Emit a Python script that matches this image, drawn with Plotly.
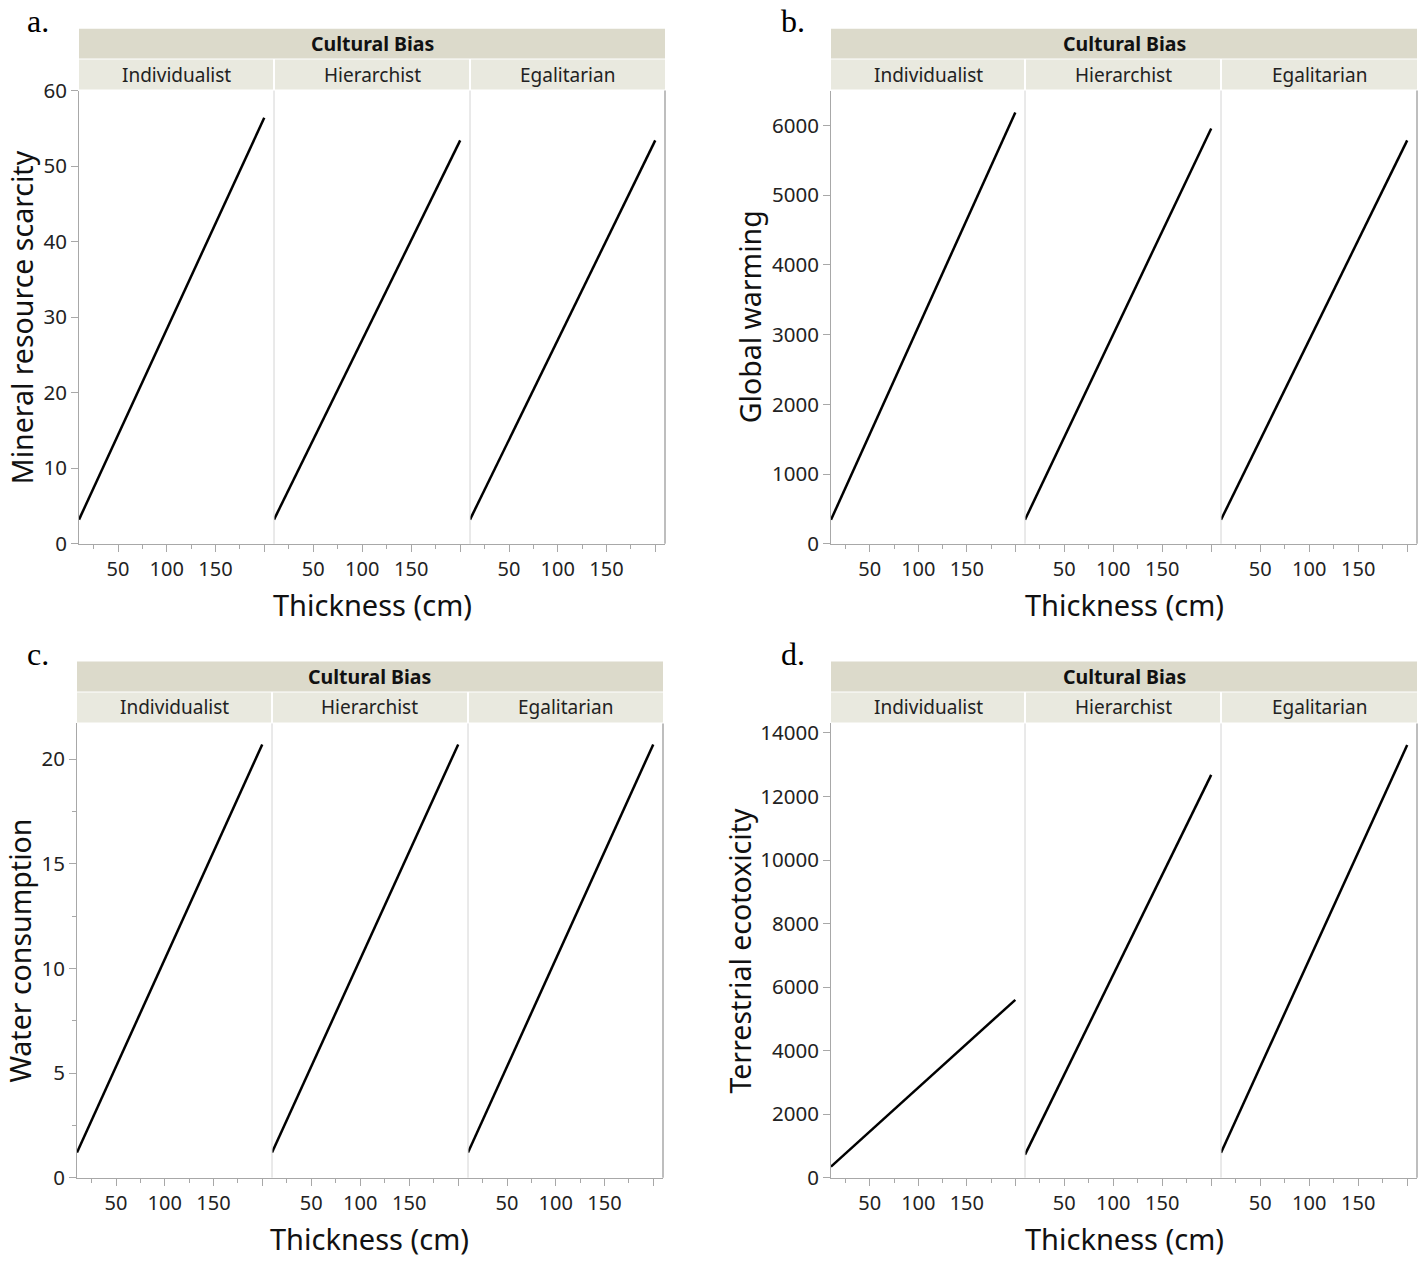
import plotly.graph_objects as go

W, H = 1425, 1261

# data
thickness = [10, 200]
facets = ["Individualist", "Hierarchist", "Egalitarian"]
mineral = [[3.2, 56.4], [3.2, 53.4], [3.2, 53.4]]
warming = [[344, 6186], [344, 5957], [344, 5785]]
water = [[1.2, 20.7], [1.2, 20.7], [1.2, 20.7]]
ecotox = [[346, 5600], [724, 12680], [786, 13620]]

ylabels = ["Mineral resource scarcity", "Global warming", "Water consumption", "Terrestrial ecotoxicity"]
letters = ["a.", "b.", "c.", "d."]
yticks = [[0, 10, 20, 30, 40, 50, 60],
          [0, 1000, 2000, 3000, 4000, 5000, 6000],
          [0, 5, 10, 15, 20],
          [0, 2000, 4000, 6000, 8000, 10000, 12000, 14000]]
yranges = [[0, 60], [0, 6500], [0, 21.7], [0, 14300]]
series = [mineral, warming, water, ecotox]

# pixel layout of each panel: facet x edges, plot top/bottom
panels = [
    dict(xs=[79, 274, 470, 665], top=89, bot=543, ylab_x=22, lx=38),
    dict(xs=[831, 1025, 1221, 1417], top=89, bot=543, ylab_x=750, lx=793),
    dict(xs=[77, 272, 468, 663], top=723, bot=1178, ylab_x=20, lx=38),
    dict(xs=[831, 1025, 1221, 1417], top=723, bot=1178, ylab_x=740, lx=793),
]

FONT = "Noto Sans"
GRID = "#d4d4d4"
AX = "#a8a8a8"


def px(x):
    return x / W


def py(y):
    # the screenshot squeezes the page a bit vertically, undo that
    y = (y - 13.3) / 0.9795
    return 1 - y / H


fig = go.Figure()
layout = {}
shapes = []
annotations = []

for p, pan in enumerate(panels):
    yname = "yaxis" if p == 0 else f"yaxis{p * 3 + 1}"
    yref = "y" if p == 0 else f"y{p * 3 + 1}"
    first_x = "x" if p == 0 else f"x{p * 3 + 1}"
    layout[yname] = dict(
        domain=[py(pan["bot"]), py(pan["top"])],
        anchor=first_x, range=yranges[p], tickvals=yticks[p], tickformat="d",
        showgrid=False, zeroline=False, showline=True, linecolor=AX, linewidth=1,
        ticks="outside", ticklen=7, tickcolor=AX,
        tickfont=dict(family=FONT, size=20.5, color="#222"),
    )
    if p == 2:
        layout[yname]["minor"] = dict(ticks="outside", ticklen=4, tickcolor=AX, dtick=2.5)

    for f in range(3):
        k = p * 3 + f + 1
        xname = "xaxis" if k == 1 else f"xaxis{k}"
        xref = "x" if k == 1 else f"x{k}"
        layout[xname] = dict(
            domain=[px(pan["xs"][f]), px(pan["xs"][f + 1])],
            anchor=yref, range=[10, 210],
            tickvals=[50, 100, 150, 200], ticktext=["50", "100", "150", ""],
            showgrid=False, zeroline=False, showline=True, linecolor=AX, linewidth=1,
            ticks="outside", ticklen=7, tickcolor=AX,
            minor=dict(tickvals=[25, 75, 125, 175], ticks="outside", ticklen=4, tickcolor=AX),
            tickfont=dict(family=FONT, size=20, color="#222"),
        )
        fig.add_trace(go.Scatter(
            x=thickness, y=series[p][f], mode="lines",
            line=dict(color="black", width=2.5),
            xaxis=xref, yaxis=yref, showlegend=False, hoverinfo="skip",
        ))
        # facet header cell
        shapes.append(dict(type="rect", xref="paper", yref="paper",
                           x0=px(pan["xs"][f] + (1 if f > 0 else 0)), x1=px(pan["xs"][f + 1] - (1 if f < 2 else 0)),
                           y0=py(pan["top"] - 1), y1=py(pan["top"] - 31),
                           fillcolor="#e9e9df", line=dict(width=0), layer="below"))
        annotations.append(dict(text=facets[f], xref="paper", yref="paper",
                                x=px((pan["xs"][f] + pan["xs"][f + 1]) / 2), y=py(pan["top"] - 16),
                                showarrow=False, font=dict(family=FONT, size=19, color="#222"),
                                xanchor="center", yanchor="middle"))
        # divider between facets
        if f > 0:
            shapes.append(dict(type="line", xref="paper", yref="paper",
                               x0=px(pan["xs"][f]), x1=px(pan["xs"][f]),
                               y0=py(pan["bot"]), y1=py(pan["top"]),
                               line=dict(color=GRID, width=1)))
    shapes.append(dict(type="line", xref="paper", yref="paper",
                       x0=px(pan["xs"][3]), x1=px(pan["xs"][3]),
                       y0=py(pan["bot"]), y1=py(pan["top"]),
                       line=dict(color=AX, width=1.5)))
    # top header band
    shapes.append(dict(type="rect", xref="paper", yref="paper",
                       x0=px(pan["xs"][0]), x1=px(pan["xs"][3]),
                       y0=py(pan["top"] - 32), y1=py(pan["top"] - 62),
                       fillcolor="#dcdacb", line=dict(width=0), layer="below"))
    annotations.append(dict(text="<b>Cultural Bias</b>", xref="paper", yref="paper",
                            x=px((pan["xs"][0] + pan["xs"][3]) / 2), y=py(pan["top"] - 47),
                            showarrow=False, font=dict(family=FONT, size=19.5, color="#111"),
                            xanchor="center", yanchor="middle"))
    # y title
    annotations.append(dict(text=ylabels[p], xref="paper", yref="paper", textangle=-90,
                            x=px(pan["ylab_x"]), y=py((pan["top"] + pan["bot"]) / 2),
                            showarrow=False, font=dict(family=FONT, size=28.5, color="#111"),
                            xanchor="center", yanchor="middle"))
    # x title
    annotations.append(dict(text="Thickness (cm)", xref="paper", yref="paper",
                            x=px((pan["xs"][0] + pan["xs"][3]) / 2), y=py(pan["bot"] + 61),
                            showarrow=False, font=dict(family=FONT, size=29, color="#111"),
                            xanchor="center", yanchor="middle"))
    # panel letter
    annotations.append(dict(text=letters[p], xref="paper", yref="paper",
                            x=px(pan["lx"]), y=py(pan["top"] - 70),
                            showarrow=False, font=dict(family="Liberation Serif", size=32, color="#000"),
                            xanchor="center", yanchor="middle"))

fig.update_layout(
    width=W, height=H, margin=dict(l=0, r=0, t=0, b=0),
    paper_bgcolor="white", plot_bgcolor="white",
    shapes=shapes, annotations=annotations, **layout,
)

fig.write_html("out.html", config={"displayModeBar": False},
               post_script="document.body.style.margin='0';document.body.style.overflow='hidden';")
